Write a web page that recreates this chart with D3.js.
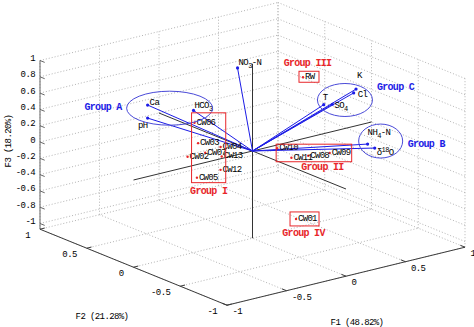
<!DOCTYPE html>
<html><head><meta charset="utf-8">
<script src="https://cdn.jsdelivr.net/npm/d3@7"></script>
<style>body{margin:0;background:#fff}svg{display:block}</style>
</head><body>
<svg id="c" width="474" height="327"></svg>
<script>
// ---------------- data ----------------
const variableNames = ["Ca","pH","HCO3","NO3-N","K","Cl","T","SO4","NH4-N","δ18O"];
const varF1 = [-0.41,-0.41,-0.26, 0.11, 0.87, 0.85, 0.52, 0.75, 0.81, 0.87];
const varF2 = [ 0.60, 0.60, 0.30, 0.30, 0.00, 0.00,-0.10, 0.10,-0.20,-0.20];
const varF3 = [ 0.43, 0.27, 0.45, 0.84, 0.45, 0.41, 0.43, 0.26,-0.11,-0.18];

const sampleNames = ["CW06","CW03","CW04","CW07","CW13","CW02","CW12","CW05","CW10","CW11","CW08","CW09","RW","CW01"];
const sampleF1 = [-0.33,-0.30,-0.19,-0.24,-0.18,-0.31,-0.19,-0.31, 0.05, 0.17, 0.39, 0.57, 0.66, 0.13];
const sampleF2 = [ 0.20, 0.20, 0.10, 0.20, 0.10, 0.30, 0.10, 0.20,-0.20,-0.20,-0.10,-0.10, 0.30,-0.30];
const sampleF3 = [ 0.37, 0.11, 0.07,-0.03,-0.05,-0.10,-0.21,-0.31, 0.11,-0.05,-0.15,-0.18, 0.53,-0.74];

const varGroupNames = ["Group A","Group B","Group C"];
const varGroupMembers = [["Ca","pH","HCO3"],["NH4-N","δ18O"],["K","Cl","T","SO4"]];
const sampleGroupNames = ["Group I","Group II","Group III","Group IV"];
const sampleGroupMembers = [["CW06","CW03","CW04","CW07","CW13","CW02","CW12","CW05"],["CW10","CW11","CW08","CW09"],["RW"],["CW01"]];

const f1Ticks = [-1,-0.5,0,0.5,1];
const f1TickLabels = ["-1","-0.5","0","0.5","1"];
const f2Ticks = [-1,-0.5,0,0.5,1];
const f2TickLabels = ["-1","-0.5","0","0.5","1"];
const f3Ticks = [-1,-0.8,-0.6,-0.4,-0.2,0,0.2,0.4,0.6,0.8,1];
const f3TickLabels = ["-1","-0.8","-0.6","-0.4","-0.2","0","0.2","0.4","0.6","0.8","1"];
const axisTitles = ["F1 (48.82%)","F2 (21.28%)","F3 (18.20%)"];

// ---------------- layout ----------------
const X0 = 252.5, Y0 = 151, ZMIN = -1.07, ZMAX = 1;
const sx1 = d3.scaleLinear().domain([-1,1]).range([-119,119]);
const sy1 = d3.scaleLinear().domain([-1,1]).range([29,-29]);
const sx2 = d3.scaleLinear().domain([-1,1]).range([93.5,-93.5]);
const sy2 = d3.scaleLinear().domain([-1,1]).range([38,-38]);
const sz  = d3.scaleLinear().domain([-1,1]).range([81.5,-81.5]);
function P(a,b,c){ return [X0 + sx1(a) + sx2(b), Y0 + sy1(a) + sy2(b) + sz(c)]; }
const lineGen = d3.line();
const path3 = pts => lineGen(pts.map(p => P(p[0],p[1],p[2])));

const FONT = "'Liberation Mono','DejaVu Sans Mono',monospace";
const BLUE = "#1c1ce6", RED = "#e8262a";

const varLabelOff = {"Ca":[2,-2,"start"],"pH":[0,8,"end"],"HCO3":[1,-4,"start"],"NO3-N":[1,-5,"start"],
  "K":[1,-13,"start"],"Cl":[4,2,"start"],"T":[-1,-7,"start"],"SO4":[2,2,"start"],"NH4-N":[0,-11,"start"],"δ18O":[2,5,"start"]};
const ellipseLayout = {"Group A":{dx:6.7,dy:-3,rx:43,ry:17,lab:"left",ldx:-5,ldy:-1},
  "Group B":{dx:9.5,dy:-5,rx:22,ry:17,lab:"right",ldx:5,ldy:3},
  "Group C":{dx:3.5,dy:2.25,rx:27.5,ry:16.5,lab:"right",ldx:4.5,ldy:-12}};
const rectLayout = {"Group I":{pad:[-4,10,4,5],lab:"below",ldx:0,ldy:9},
  "Group II":{pad:[1,4,22,4],lab:"below",ldx:8.5,ldy:6},
  "Group III":{pad:[4,6,16,5],lab:"above",ldx:-1.5,ldy:-8},
  "Group IV":{pad:[6,7,23,7],lab:"below",ldx:-1,ldy:8}};

const svg = d3.select("#c");

// ---------------- grid ----------------
const grid = svg.append("g").attr("fill","none").attr("stroke","#b4b4b4").attr("stroke-width",1).attr("stroke-dasharray","1,2");
f1Ticks.forEach(t => grid.append("path").attr("d", path3([[t,-1,ZMIN],[t,1,ZMIN]])));
f2Ticks.forEach(t => grid.append("path").attr("d", path3([[-1,t,ZMIN],[1,t,ZMIN]])));
f1Ticks.forEach(t => grid.append("path").attr("d", path3([[t,1,ZMIN],[t,1,ZMAX]])));
f3Ticks.forEach(z => grid.append("path").attr("d", path3([[-1,1,z],[1,1,z]])));
f2Ticks.forEach(t => grid.append("path").attr("d", path3([[1,t,ZMIN],[1,t,ZMAX]])));
f3Ticks.forEach(z => grid.append("path").attr("d", path3([[1,-1,z],[1,1,z]])));

// ---------------- axes ----------------
const ax = svg.append("g").attr("fill","none").attr("stroke","#3c3c3c").attr("stroke-width",1);
ax.append("path").attr("d", path3([[-1,1,ZMIN],[-1,-1,ZMIN]]));
ax.append("path").attr("d", path3([[-1,-1,ZMIN],[1,-1,ZMIN]]));
ax.append("path").attr("d", path3([[-1,1,ZMIN],[-1,1,ZMAX]])).attr("stroke","#666");
f2Ticks.forEach(t => ax.append("path").attr("d", path3([[-1,t,ZMIN],[-0.96,t,ZMIN]])));
f1Ticks.forEach(t => ax.append("path").attr("d", path3([[t,-1,ZMIN],[t,-0.95,ZMIN]])));
f3Ticks.forEach(z => ax.append("path").attr("d", path3([[-1,1,z],[-1,0.95,z]])).attr("stroke","#666"));

const tl = svg.append("g").attr("font-family",FONT).attr("font-size",9).attr("letter-spacing",-0.6).attr("fill","#000");
f3Ticks.forEach((z,i) => { const p = P(-1,1,z);
  tl.append("text").attr("x",p[0]-5).attr("y",p[1]-1.5).attr("text-anchor","end").attr("dominant-baseline","central").text(f3TickLabels[i]); });
f2Ticks.forEach((t,i) => { const p = P(-1,t,ZMIN);
  tl.append("text").attr("x",p[0]-10).attr("y",p[1]+6.5).attr("text-anchor","end").attr("dominant-baseline","central").text(f2TickLabels[i]); });
f1Ticks.forEach((t,i) => { const p = P(t,-1,ZMIN);
  tl.append("text").attr("x",p[0]+5.5).attr("y",p[1]+7).attr("text-anchor","start").attr("dominant-baseline","central").text(f1TickLabels[i]); });
tl.append("text").attr("x",357).attr("y",323).attr("text-anchor","middle").attr("dominant-baseline","central").text(axisTitles[0]);
tl.append("text").attr("x",102).attr("y",317).attr("text-anchor","middle").attr("dominant-baseline","central").text(axisTitles[1]);
tl.append("text").attr("transform","translate(9,141) rotate(-90)").attr("text-anchor","middle").attr("dominant-baseline","central").text(axisTitles[2]);

// ---------------- origin axes ----------------
const ol = svg.append("g").attr("fill","none").attr("stroke","#333").attr("stroke-width",1);
ol.append("path").attr("d", path3([[-1,0,0],[1,0,0]]));
ol.append("path").attr("d", path3([[0,-1,0],[0,1,0]]));
ol.append("path").attr("d", path3([[0,0,ZMIN],[0,0,-ZMIN]]));

// ---------------- variable vectors ----------------
const vars = variableNames.map((n,i)=>({name:n, f:[varF1[i],varF2[i],varF3[i]], p:P(varF1[i],varF2[i],varF3[i])}));
const vg = svg.append("g");
vg.selectAll("path").data(vars).join("path").attr("fill","none").attr("stroke",BLUE).attr("stroke-width",1)
  .attr("d", d => path3([[0,0,0], d.f]));
vg.selectAll("circle").data(vars).join("circle").attr("cx",d=>d.p[0]).attr("cy",d=>d.p[1]).attr("r",1.6).attr("fill",BLUE);

function richText(t, name){
  const sup = name.startsWith("δ");
  const parts = name.match(/\d+|\D+/g);
  let reset = 0;
  parts.forEach(s => {
    if (/^\d+$/.test(s)) {
      t.append("tspan").attr("font-size",7).attr("dy", sup ? -3 : 3).text(s);
      reset = sup ? 3 : -3;
    } else {
      t.append("tspan").attr("dy", reset).text(s); reset = 0;
    }
  });
}
const vl = svg.append("g").attr("font-family",FONT).attr("font-size",9).attr("letter-spacing",-0.6).attr("fill","#000");
vars.forEach(d => { const o = varLabelOff[d.name];
  const t = vl.append("text").attr("x",d.p[0]+o[0]).attr("y",d.p[1]+o[1]).attr("text-anchor",o[2]).attr("dominant-baseline","central");
  richText(t, d.name); });

// ---------------- samples ----------------
const samples = sampleNames.map((n,i)=>({name:n, p:P(sampleF1[i],sampleF2[i],sampleF3[i])}));
const sg = svg.append("g");
sg.selectAll("circle").data(samples).join("circle").attr("cx",d=>d.p[0]).attr("cy",d=>d.p[1]).attr("r",1.2).attr("fill",RED);
const sl = svg.append("g").attr("font-family",FONT).attr("font-size",9).attr("letter-spacing",-0.7).attr("fill","#000");
samples.forEach(d => sl.append("text").attr("x",d.p[0]+2).attr("y",d.p[1]).attr("dominant-baseline","central").text(d.name));

// ---------------- group annotations ----------------
const an = svg.append("g");
varGroupNames.forEach((g,i) => {
  const pts = varGroupMembers[i].map(n => vars.find(v=>v.name===n).p);
  const L = ellipseLayout[g];
  const cx = d3.mean(pts,p=>p[0]) + L.dx, cy = d3.mean(pts,p=>p[1]) + L.dy;
  an.append("ellipse").attr("cx",cx).attr("cy",cy).attr("rx",L.rx).attr("ry",L.ry)
    .attr("fill","none").attr("stroke","#4a4ad8").attr("stroke-width",1);
  const left = L.lab === "left";
  an.append("text").attr("x", left ? cx-L.rx+L.ldx : cx+L.rx+L.ldx).attr("y", cy+L.ldy)
    .attr("text-anchor", left ? "end" : "start").attr("dominant-baseline","central")
    .attr("font-family",FONT).attr("font-size",10).attr("font-weight","bold").attr("letter-spacing",-0.7)
    .attr("fill",BLUE).text(g);
});
sampleGroupNames.forEach((g,i) => {
  const pts = sampleGroupMembers[i].map(n => samples.find(v=>v.name===n).p);
  const L = rectLayout[g];
  const x0 = d3.min(pts,p=>p[0]) - L.pad[0], x1 = d3.max(pts,p=>p[0]) + L.pad[2];
  const y0 = d3.min(pts,p=>p[1]) - L.pad[1], y1 = d3.max(pts,p=>p[1]) + L.pad[3];
  an.append("rect").attr("x",x0).attr("y",y0).attr("width",x1-x0).attr("height",y1-y0)
    .attr("fill","none").attr("stroke",RED).attr("stroke-width",1);
  an.append("text").attr("x",(x0+x1)/2+L.ldx).attr("y", L.lab==="below" ? y1+L.ldy : y0+L.ldy)
    .attr("text-anchor","middle").attr("dominant-baseline","central")
    .attr("font-family",FONT).attr("font-size",10).attr("font-weight","bold").attr("letter-spacing",-0.7)
    .attr("fill",RED).text(g);
});
</script>
</body></html>
